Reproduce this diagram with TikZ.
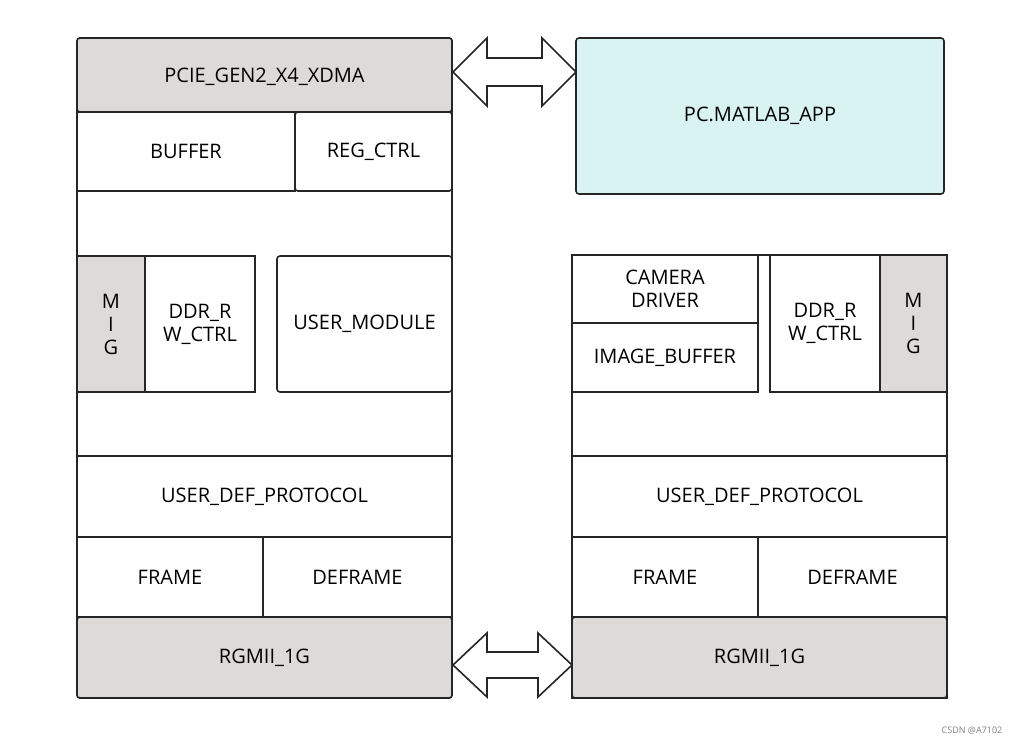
\documentclass[tikz,border=0pt]{standalone}
\usepackage{fontspec}
\setmainfont{Open Sans}
\begin{document}
\begin{tikzpicture}[x=1pt,y=-1pt,
  bx/.style={draw=black!85,line width=1.6pt,font=\fontsize{20}{23}\selectfont},
  gr/.style={fill=gray1},
  rc/.style={rounded corners=3pt},
  ar/.style={draw=black!85,line width=1.6pt,fill=white,line join=miter}]
\definecolor{gray1}{HTML}{DEDAD7}
\definecolor{cyan1}{HTML}{D9F3F3}
\useasboundingbox (0,0) rectangle (1024,745);
% left outer
\draw[bx,rc] (77,38) rectangle (452,698);
\draw[bx,gr,rounded corners=3pt] (77,112) -- (77,38) -- (452,38) -- (452,112) -- cycle;
\node[font=\fontsize{20}{23}\selectfont] (pcie) at (264.5,77) {PCIE\_GEN2\_X4\_XDMA};
\draw[bx] (77,112) rectangle node (buf) {BUFFER} (295,191);
\draw[bx,rc] (295,112) rectangle node (reg) {REG\_CTRL} (452,191);
\draw[bx,gr] (77,256) rectangle node[align=center] (mig1) {M\\I\\G} (145,392);
\draw[bx] (145,256) rectangle node[align=center] (ddr1) {DDR\_R\\W\_CTRL} (255,392);
\draw[bx,rc] (277,256) rectangle node (um) {USER\_MODULE} (452,392);
\draw[bx] (77,456) rectangle node (udp1) {USER\_DEF\_PROTOCOL} (452,537);
\draw[bx] (77,537) rectangle node (fr1) {FRAME} (263,617);
\draw[bx] (263,537) rectangle node (df1) {DEFRAME} (452,617);
\draw[bx,gr,rc] (77,617) rectangle node (rg1) {RGMII\_1G} (452,698);
% right
\draw[bx,rc,fill=cyan1] (576,38) rectangle node (pc) {PC.MATLAB\_APP} (944,194);
\draw[bx] (572,255) rectangle (947,698);
\draw[bx] (572,255) rectangle node[align=center] (cam) {CAMERA\\DRIVER} (758,323);
\draw[bx] (572,323) rectangle node (ib) {IMAGE\_BUFFER} (758,392);
\draw[bx] (770,255) rectangle node[align=center] (ddr2) {DDR\_R\\W\_CTRL} (880,392);
\draw[bx,gr] (880,255) rectangle node[align=center] (mig2) {M\\I\\G} (947,392);
\draw[bx] (572,456) rectangle node (udp2) {USER\_DEF\_PROTOCOL} (947,537);
\draw[bx] (572,537) rectangle node (fr2) {FRAME} (758,617);
\draw[bx] (758,537) rectangle node (df2) {DEFRAME} (947,617);
\draw[bx,gr,rc] (572,617) rectangle node (rg2) {RGMII\_1G} (947,698);
% block arrows
\draw[ar] (453,72) -- (487,38) -- (487,58) -- (542,58) -- (542,38) -- (576,72) -- (542,106) -- (542,86) -- (487,86) -- (487,106) -- cycle;
\draw[ar] (453,665) -- (487,633) -- (487,652) -- (538,652) -- (538,633) -- (572,665) -- (538,697) -- (538,678) -- (487,678) -- (487,697) -- cycle;
\node[font=\fontsize{9}{10}\selectfont,text=gray] (wm) at (972,731) {CSDN @A7102};
\end{tikzpicture}
\end{document}
